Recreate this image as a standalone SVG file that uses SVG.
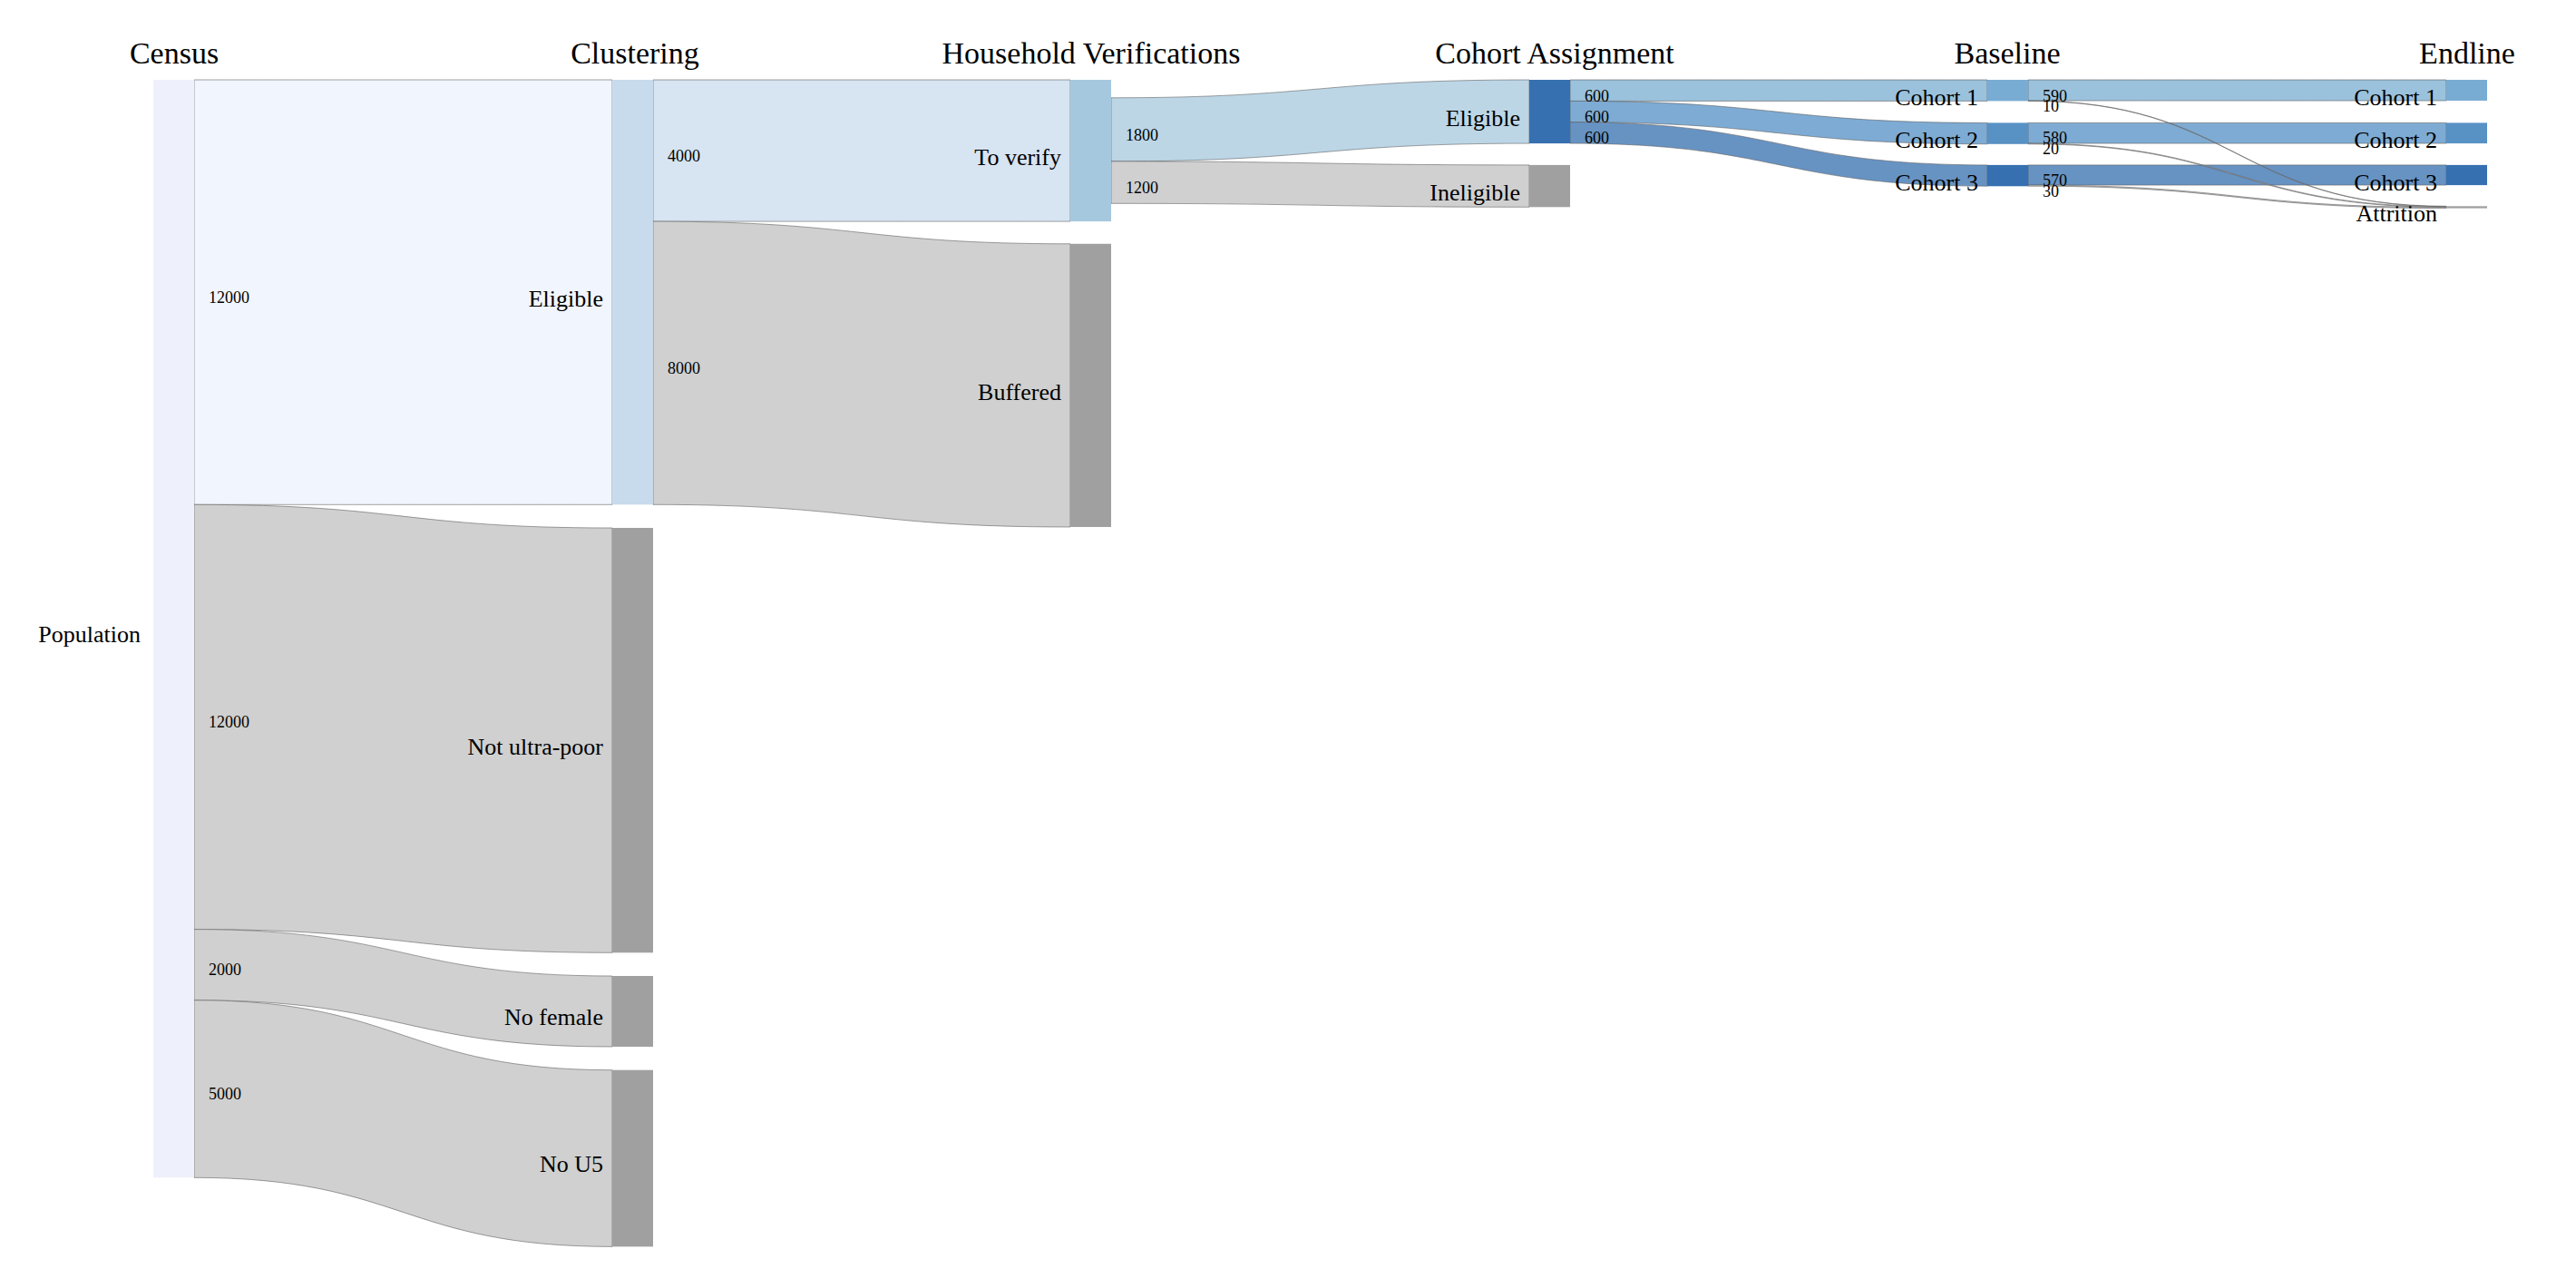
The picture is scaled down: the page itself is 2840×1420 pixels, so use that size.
<svg xmlns="http://www.w3.org/2000/svg" width="2840" height="1420" viewBox="0 0 2840 1420">
<style>
text{font-family:"Liberation Serif","DejaVu Serif",serif;fill:#000}
.t{font-size:34px;text-anchor:middle}
.n{font-size:26px;text-anchor:end}
.v{font-size:18px}
.l{stroke:#555;stroke-opacity:.55;stroke-width:1}
.g{fill:#d0d0d0}
.gn{fill:#a0a0a0}
</style>
<rect width="2840" height="1420" fill="#fff"/>
<g id="titles">
<text class="t" x="192" y="70">Census</text>
<text class="t" x="700" y="70">Clustering</text>
<text class="t" x="1203" y="70">Household Verifications</text>
<text class="t" x="1714" y="70">Cohort Assignment</text>
<text class="t" x="2213" y="70">Baseline</text>
<text class="t" x="2720" y="70">Endline</text>
</g>
<g id="connectors">
<path class="l" fill="#f1f5fd" d="M214,88 C444,88 444,88 675,88 L675,556.3 C444,556.3 444,556.3 214,556.3 Z"/>
<path class="l g" d="M214,556.3 C444,556.3 444,582 675,582 L675,1050.3 C444,1050.3 444,1024.6 214,1024.6 Z"/>
<path class="l g" d="M214,1024.6 C444,1024.6 444,1076 675,1076 L675,1154 C444,1154 444,1102.7 214,1102.7 Z"/>
<path class="l g" d="M214,1102.7 C444,1102.7 444,1179.7 675,1179.7 L675,1374.4 C444,1374.4 444,1298.3 214,1298.3 Z"/>
<path class="l" fill="#d7e4f1" d="M720,88 C950,88 950,88 1180,88 L1180,244.1 C950,244.1 950,244.1 720,244.1 Z"/>
<path class="l g" d="M720,244.1 C950,244.1 950,268.8 1180,268.8 L1180,581 C950,581 950,556.3 720,556.3 Z"/>
<path class="l" fill="#bcd6e6" d="M1225,107.8 C1455,107.8 1455,88 1686,88 L1686,158.1 C1455,158.1 1455,177.9 1225,177.9 Z"/>
<path class="l g" d="M1225,177.9 C1455,177.9 1455,181.9 1686,181.9 L1686,228.3 C1455,228.3 1455,224.3 1225,224.3 Z"/>
<path class="l" fill="#9bc2dd" d="M1731,88 C1961,88 1961,88 2191,88 L2191,111.4 C1961,111.4 1961,111.4 1731,111.4 Z"/>
<path class="l" fill="#7eabd3" d="M1731,111.4 C1961,111.4 1961,135.4 2191,135.4 L2191,158.8 C1961,158.8 1961,134.7 1731,134.7 Z"/>
<path class="l" fill="#6793c3" d="M1731,134.7 C1961,134.7 1961,181.9 2191,181.9 L2191,205.2 C1961,205.2 1961,158.1 1731,158.1 Z"/>
<path class="l" fill="#9bc2dd" d="M2236,88 C2466,88 2466,88 2697,88 L2697,111 C2466,111 2466,111 2236,111 Z"/>
<path class="l" fill="#7eabd3" d="M2236,135.4 C2466,135.4 2466,135.4 2697,135.4 L2697,158.1 C2466,158.1 2466,158.1 2236,158.1 Z"/>
<path class="l" fill="#6793c3" d="M2236,181.9 C2466,181.9 2466,181.9 2697,181.9 L2697,204.1 C2466,204.1 2466,204.1 2236,204.1 Z"/>
<path class="l g" d="M2236,111 C2466,111 2466,227.3 2697,227.3 L2697,227.7 C2466,227.7 2466,111.4 2236,111.4 Z"/>
<path class="l g" d="M2236,158.1 C2466,158.1 2466,227.7 2697,227.7 L2697,228.5 C2466,228.5 2466,158.8 2236,158.8 Z"/>
<path class="l g" d="M2236,204.1 C2466,204.1 2466,228.5 2697,228.5 L2697,229.6 C2466,229.6 2466,205.2 2236,205.2 Z"/>
</g>
<g id="values" class="v">
<text class="v" x="230" y="334">12000</text>
<text class="v" x="230" y="802">12000</text>
<text class="v" x="230" y="1075">2000</text>
<text class="v" x="230" y="1212">5000</text>
<text class="v" x="736" y="178">4000</text>
<text class="v" x="736" y="412">8000</text>
<text class="v" x="1241" y="155">1800</text>
<text class="v" x="1241" y="213">1200</text>
<text class="v" x="1747" y="112">600</text>
<text class="v" x="1747" y="135">600</text>
<text class="v" x="1747" y="158">600</text>
<text class="v" x="2252" y="112">590</text>
<text class="v" x="2252" y="123">10</text>
<text class="v" x="2252" y="158">580</text>
<text class="v" x="2252" y="170">20</text>
<text class="v" x="2252" y="205">570</text>
<text class="v" x="2252" y="217">30</text>
</g>
<g id="census-population"><rect x="169" y="88" width="45" height="1210.3" fill="#eef1fb"/><text class="n" x="155" y="708">Population</text></g>
<g id="clustering-eligible"><rect x="675" y="88" width="45" height="468.3" fill="#c8dbec"/><text class="n" x="665" y="338">Eligible</text></g>
<g id="clustering-not-ultra-poor"><rect class="gn" x="675" y="582" width="45" height="468.3"/><text class="n" x="665" y="832">Not ultra-poor</text></g>
<g id="clustering-no-female"><rect class="gn" x="675" y="1076" width="45" height="78"/><text class="n" x="665" y="1130">No female</text></g>
<g id="clustering-no-u5"><rect class="gn" x="675" y="1179.7" width="45" height="194.7"/><text class="n" x="665" y="1292">No U5</text></g>
<g id="hv-to-verify"><rect x="1180" y="88" width="45" height="156.1" fill="#a6c8df"/><text class="n" x="1170" y="182">To verify</text></g>
<g id="hv-buffered"><rect class="gn" x="1180" y="268.8" width="45" height="312.2"/><text class="n" x="1170" y="441">Buffered</text></g>
<g id="ca-eligible"><rect x="1686" y="88" width="45" height="70.1" fill="#3670b0"/><text class="n" x="1676" y="139">Eligible</text></g>
<g id="ca-ineligible"><rect class="gn" x="1686" y="181.9" width="45" height="46.4"/><text class="n" x="1676" y="221">Ineligible</text></g>
<g id="baseline-cohort1"><rect x="2191" y="88" width="45" height="23.4" fill="#79acd3"/><text class="n" x="2181" y="116">Cohort 1</text></g>
<g id="baseline-cohort2"><rect x="2191" y="135.4" width="45" height="23.4" fill="#5891c4"/><text class="n" x="2181" y="163">Cohort 2</text></g>
<g id="baseline-cohort3"><rect x="2191" y="181.9" width="45" height="23.4" fill="#3670b0"/><text class="n" x="2181" y="210">Cohort 3</text></g>
<g id="endline-cohort1"><rect x="2697" y="88" width="45" height="23" fill="#79acd3"/><text class="n" x="2687" y="116">Cohort 1</text></g>
<g id="endline-cohort2"><rect x="2697" y="135.4" width="45" height="22.7" fill="#5891c4"/><text class="n" x="2687" y="163">Cohort 2</text></g>
<g id="endline-cohort3"><rect x="2697" y="181.9" width="45" height="22.2" fill="#3670b0"/><text class="n" x="2687" y="210">Cohort 3</text></g>
<g id="endline-attrition"><rect class="gn" x="2697" y="227.3" width="45" height="2.3"/><text class="n" x="2687" y="244">Attrition</text></g>
</svg>
